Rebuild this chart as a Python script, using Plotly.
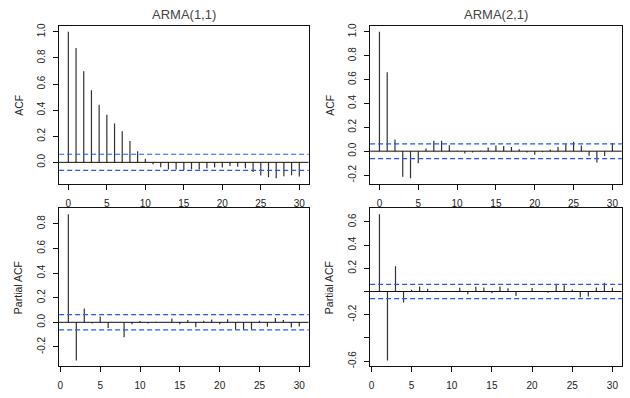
import plotly.graph_objects as go

# ---------------- data ----------------
lags_acf = list(range(0, 31))
lags_pacf = list(range(1, 31))

acf_arma11 = [1.0, 0.877, 0.698, 0.552, 0.441, 0.365, 0.297, 0.239, 0.164, 0.086, 0.028,
              -0.015, -0.038, -0.055, -0.055, -0.058, -0.052, -0.055, -0.046, -0.040, -0.040,
              -0.028, -0.033, -0.045, -0.073, -0.100, -0.115, -0.121, -0.106, -0.098, -0.108]

acf_arma21 = [1.0, 0.661, 0.098, -0.215, -0.226, -0.101, 0.022, 0.088, 0.088, 0.050, 0.004,
              -0.020, -0.012, 0.004, 0.031, 0.047, 0.043, 0.036, 0.016, -0.010, -0.029,
              -0.008, 0.015, 0.035, 0.062, 0.080, 0.048, -0.038, -0.094, -0.040, 0.068]

pacf_arma11 = [0.877, -0.310, 0.113, -0.009, 0.047, -0.047, 0.003, -0.121, -0.016, 0.010,
               -0.009, 0.004, 0.002, 0.032, -0.015, 0.018, -0.040, 0.013, 0.023, -0.015,
               0.025, -0.060, -0.062, -0.060, 0.013, -0.036, 0.035, 0.018, -0.043, -0.033]

pacf_arma21 = [0.665, -0.594, 0.217, -0.095, 0.016, 0.044, 0.023, 0.006, 0.003, 0.002,
               0.032, -0.023, 0.042, 0.034, -0.014, 0.044, 0.028, -0.038, 0.003, 0.031,
               0.005, -0.011, 0.057, 0.054, 0.017, -0.050, -0.042, 0.034, 0.076, 0.032]

ci_bound = 0.062

titles = ["ARMA(1,1)", "ARMA(2,1)"]
x_tickvals = [0, 5, 10, 15, 20, 25, 30]
x_ticktext = ["0", "5", "10", "15", "20", "25", "30"]

y_ticks_tl = [0.0, 0.2, 0.4, 0.6, 0.8, 1.0]
y_text_tl = ["0.0", "0.2", "0.4", "0.6", "0.8", "1.0"]
y_ticks_tr = [-0.2, 0.0, 0.2, 0.4, 0.6, 0.8, 1.0]
y_text_tr = ["-0.2", "0.0", "0.2", "0.4", "0.6", "0.8", "1.0"]
y_ticks_bl = [-0.2, 0.0, 0.2, 0.4, 0.6, 0.8]
y_text_bl = ["-0.2", "0.0", "0.2", "0.4", "0.6", "0.8"]
y_ticks_br = [-0.6, -0.4, -0.2, 0.0, 0.2, 0.4, 0.6]
y_text_br = ["-0.6", "", "-0.2", "", "0.2", "0.4", "0.6"]

# ---------------- layout helpers ----------------
W, H = 630, 398
FONT = "Liberation Sans, Arial, Helvetica, sans-serif"
TXT = "#222222"

# plot boxes in pixels (left, right, top, bottom)
boxes = {
    "tl": (57.3, 307.5, 23.3, 183.3),
    "tr": (369.3, 621.7, 23.3, 183.3),
    "bl": (57.3, 307.5, 208.0, 368.0),
    "br": (369.3, 621.7, 208.0, 368.0),
}


def xdom(b):
    return [b[0] / W, b[1] / W]


def ydom(b):
    return [1 - b[3] / H, 1 - b[2] / H]


def rrange(vals):
    lo, hi = min(vals), max(vals)
    d = (hi - lo) * 0.04
    return [lo - d, hi + d]


def spikes(lags, vals):
    xs, ys = [], []
    for l, v in zip(lags, vals):
        xs += [l, l, None]
        ys += [0, v, None]
    return xs, ys


panels = [
    ("tl", lags_acf, acf_arma11, y_ticks_tl, y_text_tl, "ACF"),
    ("tr", lags_acf, acf_arma21, y_ticks_tr, y_text_tr, "ACF"),
    ("bl", lags_pacf, pacf_arma11, y_ticks_bl, y_text_bl, "Partial ACF"),
    ("br", lags_pacf, pacf_arma21, y_ticks_br, y_text_br, "Partial ACF"),
]

fig = go.Figure()
layout = dict(
    width=W, height=H,
    margin=dict(l=0, r=0, t=0, b=0),
    paper_bgcolor="white", plot_bgcolor="white",
    showlegend=False,
    font=dict(family=FONT, size=10, color=TXT),
)
shapes = []
annotations = []

for i, (key, lags, vals, yt, ytt, ylab) in enumerate(panels):
    n = "" if i == 0 else str(i + 1)
    b = boxes[key]
    xr = rrange(lags)
    yr = rrange(list(vals) + [ci_bound, -ci_bound])
    xs, ys = spikes(lags, vals)
    fig.add_trace(go.Scatter(x=xs, y=ys, mode="lines",
                             line=dict(color="#333333", width=1.2),
                             xaxis="x" + n, yaxis="y" + n, hoverinfo="skip"))
    common = dict(showline=True, mirror=True, linecolor="#111111", linewidth=1,
                  ticks="outside", ticklen=5, tickwidth=1, tickcolor="#111111",
                  showgrid=False, zeroline=False,
                  tickfont=dict(family=FONT, size=10, color=TXT))
    layout["xaxis" + n] = dict(domain=xdom(b), range=xr, anchor="y" + n,
                               tickvals=x_tickvals, ticktext=x_ticktext,
                               ticklabelstandoff=5, **common)
    layout["yaxis" + n] = dict(domain=ydom(b), range=yr, anchor="x" + n,
                               tickvals=yt, ticktext=ytt, tickangle=-90,
                               ticklabelstandoff=4, **common)
    xref_d = "x" + n + " domain"
    yref = "y" + n
    shapes.append(dict(type="line", xref=xref_d, yref=yref, x0=0, x1=1, y0=0, y1=0,
                       line=dict(color="#111111", width=1)))
    for c in (ci_bound, -ci_bound):
        shapes.append(dict(type="line", xref=xref_d, yref=yref, x0=0, x1=1, y0=c, y1=c,
                           line=dict(color="#2a52ff", width=1.2, dash="5px,3px")))
    # y-axis label
    annotations.append(dict(text=ylab, xref="paper", yref="paper",
                            x=(b[0] - 40.5) / W, y=1 - (b[2] + b[3]) / 2 / H,
                            textangle=-90, showarrow=False,
                            font=dict(family=FONT, size=10.5, color=TXT),
                            xanchor="center", yanchor="middle"))
    if key in ("tl", "tr"):
        annotations.append(dict(text=titles[0 if key == "tl" else 1], xref="paper", yref="paper",
                                x=(b[0] + b[1]) / 2 / W, y=1 - 12 / H,
                                showarrow=False,
                                font=dict(family=FONT, size=13, color="#444444"),
                                xanchor="center", yanchor="middle"))

layout["shapes"] = shapes
layout["annotations"] = annotations
fig.update_layout(**layout)
fig.write_html("out.html", config={"displayModeBar": False},
               post_script="document.body.style.margin='0px';document.body.style.overflow='hidden';")
